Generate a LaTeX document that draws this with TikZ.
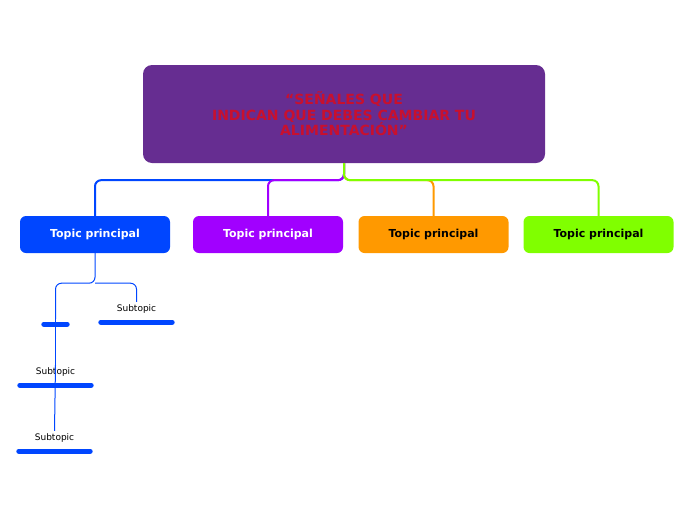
\documentclass[tikz,border=0pt]{standalone}
\usepackage{fontspec}
\setmainfont{DejaVu Sans}
\begin{document}
\begin{tikzpicture}[x=1pt,y=-1pt,
  topic/.style={rounded corners=6pt,minimum width=150pt,minimum height=37pt,font=\bfseries\fontsize{11}{13}\selectfont,inner sep=0pt},
  sub/.style={font=\fontsize{9}{11}\selectfont,minimum width=71pt,minimum height=14pt,inner sep=0pt},
  bar/.style={line width=5pt,line cap=round,color=sb},
  link/.style={line width=2pt,rounded corners=6pt},
  slink/.style={line width=1pt,rounded corners=6pt,color=sb}]
\definecolor{rootc}{HTML}{662D91}
\definecolor{titc}{HTML}{C8102E}
\definecolor{tb}{HTML}{0046FF}
\definecolor{tp}{HTML}{A100FF}
\definecolor{to}{HTML}{FF9900}
\definecolor{tg}{HTML}{80FF00}
\definecolor{sb}{HTML}{0046FF}
\useasboundingbox (0,0) rectangle (696,520);
\node[fill=rootc,rounded corners=9pt,minimum width=402pt,minimum height=98pt,align=center,text=titc,font=\bfseries\fontsize{14}{15.5}\selectfont] (root) at (344,114) {“SEÑALES QUE\\INDICAN QUE DEBES CAMBIAR TU\\ALIMENTACIÓN”};
\node[topic,fill=tb,text=white] (t1) at (95,234.5) {Topic principal};
\node[topic,fill=tp,text=white] (t2) at (268,234.5) {Topic principal};
\node[topic,fill=to,text=black] (t3) at (433.5,234.5) {Topic principal};
\node[topic,fill=tg,text=black] (t4) at (598.5,234.5) {Topic principal};
\draw[link,tb] (root.south) -- ++(0,17) -| (t1.north);
\draw[link,tp] (root.south) -- ++(0,17) -| (t2.north);
\draw[link,to] (root.south) -- ++(0,17) -| (t3.north);
\draw[link,tg] (root.south) -- ++(0,17) -| (t4.north);
\node[sub,minimum width=23pt] (s1) at (55.5,311) {};
\node[sub] (s2) at (136.5,309) {Subtopic};
\node[sub] (s3) at (55.5,372) {Subtopic};
\node[sub] (s4) at (54.5,438) {Subtopic};
\foreach \n in {s1,s2,s3,s4} \draw[bar] ([yshift=-6pt]\n.south west) -- ([yshift=-6pt]\n.south east);
\draw[slink] (t1.south) -- ++(0,30) coordinate (br) -| ([yshift=-15pt]s1.north);
\draw[slink] (br) -| (s2.north);
\draw[slink] ([yshift=14pt]s1.south) -- (s3.north);
\draw[slink] ([yshift=14pt]s3.south) -- (s4.north);
\end{tikzpicture}
\end{document}
